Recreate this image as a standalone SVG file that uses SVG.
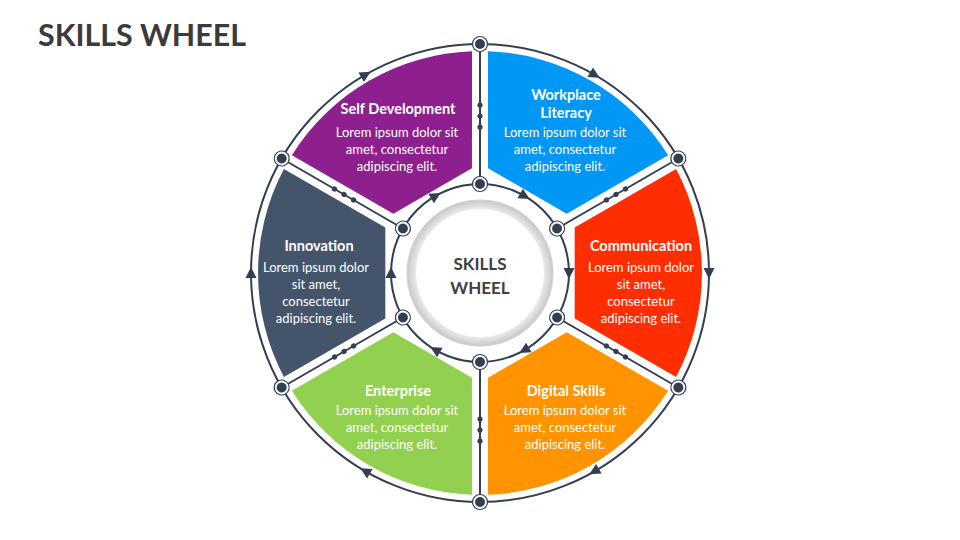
<svg xmlns="http://www.w3.org/2000/svg" xmlns:xlink="http://www.w3.org/1999/xlink" width="960" height="540" viewBox="0 0 960 540">
<style>
.t{font-family:Lato,"Open Sans","Liberation Sans",sans-serif;fill:#fff;text-anchor:middle}
.h{font-weight:bold;font-size:14.5px}
.b{font-size:13px}
.ln{fill:none;stroke:#333F50;stroke-width:2}
.dot{fill:#333F50}
</style>
<defs>
<path id="seg" d="M-45.4,-94.7 L-104,-196.1 A222 222 0 0 1 104,-196.1 L45.4,-94.7 Z"/>
<path id="arr" d="M6,0 L-5,-5.5 L-5,5.5 Z" fill="#333F50"/>
<g id="node"><circle r="7.5" fill="#fff" stroke="#333F50" stroke-width="1.2"/><circle r="5" fill="#333F50"/></g>
<g id="spoke">
<line x1="89" y1="0" x2="229" y2="0" class="ln"/>
<circle cx="146" cy="0" r="2.6" class="dot"/><circle cx="157" cy="0" r="2.6" class="dot"/><circle cx="168" cy="0" r="2.6" class="dot"/>
<use xlink:href="#node" x="89" y="0"/><use xlink:href="#node" x="229" y="0"/>
</g>
<radialGradient id="rg" cx="0.5" cy="0.5" r="0.5"><stop offset="0.85" stop-color="#f2f2f2"/><stop offset="1" stop-color="#c8c8c8"/></radialGradient>
</defs>
<rect width="960" height="540" fill="#fff"/>
<text x="38" y="46" font-family="Lato,'Open Sans','Liberation Sans',sans-serif" font-weight="bold" font-size="30" fill="#3B3B3B" textLength="208" lengthAdjust="spacingAndGlyphs">SKILLS WHEEL</text>

<g id="connectors" transform="translate(480,273)">
<circle r="229" class="ln"/>
<circle r="89" class="ln"/>
<use xlink:href="#spoke" transform="rotate(-90)"/>
<use xlink:href="#spoke" transform="rotate(-30)"/>
<use xlink:href="#spoke" transform="rotate(30)"/>
<use xlink:href="#spoke" transform="rotate(90)"/>
<use xlink:href="#spoke" transform="rotate(150)"/>
<use xlink:href="#spoke" transform="rotate(210)"/>
<use xlink:href="#arr" transform="rotate(-120) translate(229,0) rotate(90)"/>
<use xlink:href="#arr" transform="rotate(-60) translate(229,0) rotate(90)"/>
<use xlink:href="#arr" transform="rotate(0) translate(229,0) rotate(90)"/>
<use xlink:href="#arr" transform="rotate(60) translate(229,0) rotate(90)"/>
<use xlink:href="#arr" transform="rotate(120) translate(229,0) rotate(90)"/>
<use xlink:href="#arr" transform="rotate(180) translate(229,0) rotate(90)"/>
<use xlink:href="#arr" transform="rotate(-120) translate(89,0) rotate(90)"/>
<use xlink:href="#arr" transform="rotate(-60) translate(89,0) rotate(90)"/>
<use xlink:href="#arr" transform="rotate(0) translate(89,0) rotate(90)"/>
<use xlink:href="#arr" transform="rotate(60) translate(89,0) rotate(90)"/>
<use xlink:href="#arr" transform="rotate(120) translate(89,0) rotate(90)"/>
<use xlink:href="#arr" transform="rotate(180) translate(89,0) rotate(90)"/>
</g>

<g id="center">
<circle cx="480" cy="273" r="73" fill="url(#rg)" stroke="#d0d0d0" stroke-width="1"/>
<circle cx="480" cy="273" r="64" fill="#fff"/>
<text x="480" y="270" class="t h" style="fill:#404040;font-size:17px">SKILLS</text>
<text x="480" y="294" class="t h" style="fill:#404040;font-size:17px">WHEEL</text>
</g>

<g id="workplace-literacy">
<use xlink:href="#seg" transform="translate(480,273) rotate(30)" fill="#0097F5"/>
<text class="t h" x="566" y="100">Workplace</text>
<text class="t h" x="566" y="118">Literacy</text>
<text class="t b" x="565" y="137">Lorem ipsum dolor sit</text>
<text class="t b" x="565" y="154">amet, consectetur</text>
<text class="t b" x="565" y="171">adipiscing elit.</text>
</g>
<g id="communication">
<use xlink:href="#seg" transform="translate(480,273) rotate(90)" fill="#FF2E00"/>
<text class="t h" x="641" y="251">Communication</text>
<text class="t b" x="641" y="272">Lorem ipsum dolor</text>
<text class="t b" x="641" y="289">sit amet,</text>
<text class="t b" x="641" y="306">consectetur</text>
<text class="t b" x="641" y="323">adipiscing elit.</text>
</g>
<g id="digital-skills">
<use xlink:href="#seg" transform="translate(480,273) rotate(150)" fill="#FF9300"/>
<text class="t h" x="566" y="396">Digital Skills</text>
<text class="t b" x="565" y="415">Lorem ipsum dolor sit</text>
<text class="t b" x="565" y="432">amet, consectetur</text>
<text class="t b" x="565" y="449">adipiscing elit.</text>
</g>
<g id="enterprise">
<use xlink:href="#seg" transform="translate(480,273) rotate(210)" fill="#92D050"/>
<text class="t h" x="398" y="396">Enterprise</text>
<text class="t b" x="397" y="415">Lorem ipsum dolor sit</text>
<text class="t b" x="397" y="432">amet, consectetur</text>
<text class="t b" x="397" y="449">adipiscing elit.</text>
</g>
<g id="innovation">
<use xlink:href="#seg" transform="translate(480,273) rotate(270)" fill="#44546A"/>
<text class="t h" x="319" y="251">Innovation</text>
<text class="t b" x="316" y="272">Lorem ipsum dolor</text>
<text class="t b" x="316" y="289">sit amet,</text>
<text class="t b" x="316" y="306">consectetur</text>
<text class="t b" x="316" y="323">adipiscing elit.</text>
</g>
<g id="self-development">
<use xlink:href="#seg" transform="translate(480,273) rotate(330)" fill="#8E1F8E"/>
<text class="t h" x="398" y="114">Self Development</text>
<text class="t b" x="397" y="137">Lorem ipsum dolor sit</text>
<text class="t b" x="397" y="154">amet, consectetur</text>
<text class="t b" x="397" y="171">adipiscing elit.</text>
</g>
</svg>
